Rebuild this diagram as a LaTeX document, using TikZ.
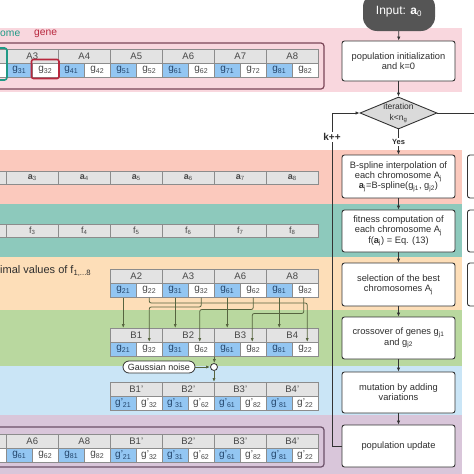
\documentclass[tikz,border=0pt]{standalone}
\usepackage{fontspec}
\setmainfont{Liberation Sans}
\usetikzlibrary{shapes.geometric,arrows.meta,calc}
\definecolor{bpink}{HTML}{F9D7DE}
\definecolor{bsalmon}{HTML}{FBC9BD}
\definecolor{bteal}{HTML}{8DC9BC}
\definecolor{bpeach}{HTML}{FDDEB8}
\definecolor{bgreen}{HTML}{B9D89F}
\definecolor{bblue}{HTML}{CAE5F6}
\definecolor{blav}{HTML}{D9C6DA}
\definecolor{hdrgray}{HTML}{E3E3E3}
\definecolor{geneblue}{HTML}{93C6F2}
\definecolor{cellb}{HTML}{8C8C8C}
\definecolor{txtgray}{HTML}{474747}
\definecolor{txtblue}{HTML}{23456B}
\definecolor{txtdark}{HTML}{2E2E2E}
\definecolor{olive}{HTML}{56643F}
\definecolor{flowb}{HTML}{333333}
\definecolor{termfill}{HTML}{555555}
\definecolor{diafill}{HTML}{DADADA}
\definecolor{outlinetop}{HTML}{7B4657}
\definecolor{outlinebot}{HTML}{6B5068}
\definecolor{chromteal}{HTML}{1F9A86}
\definecolor{genered}{HTML}{B8283E}
\newcommand{\sbs}[1]{\textsubscript{#1}}
\newcommand{\chrom}[6]{%
  \node[hdr,anchor=north west] (#1) at ({#2},{#3}) {#4};
  \node[gb,anchor=north west] (#1a) at ({#2},{#3+14}) {#5};
  \node[gw,anchor=north west] (#1b) at ({#2+26},{#3+14}) {#6};}
\begin{document}
\begin{tikzpicture}[x=1pt,y=-1pt,
  hdr/.style={draw=cellb, fill=hdrgray, line width=0.5pt, minimum width=52pt, minimum height=14pt, inner sep=0pt, text=txtgray, font=\fontsize{9.5}{10}\selectfont},
  gb/.style={draw=cellb, fill=geneblue, line width=0.5pt, minimum width=26pt, minimum height=14pt, inner sep=0pt, text=txtblue, font=\fontsize{10}{10}\selectfont},
  gw/.style={gb, fill=white, text=txtgray},
  rowc/.style={draw=cellb, fill=hdrgray, line width=0.5pt, minimum width=52pt, minimum height=12.5pt, inner sep=0pt, text=txtgray, font=\fontsize{9}{9}\selectfont},
  outtop/.style={draw=outlinetop, line width=1.2pt, rounded corners=3pt},
  outbot/.style={draw=outlinebot, line width=1.2pt, rounded corners=3pt},
  fbox/.style={draw=flowb, fill=white, line width=0.9pt, rounded corners=2.5pt, minimum width=113pt, align=center, inner sep=1pt, text=txtdark, font=\fontsize{9.3}{10.3}\selectfont},
  term/.style={fill=termfill, text=white, rounded corners=14pt, minimum width=72pt, minimum height=38pt, inner sep=0pt, font=\fontsize{12}{12}\selectfont},
  diam/.style={diamond, draw=flowb, fill=diafill, line width=0.9pt, minimum width=77pt, minimum height=32pt, inner sep=0pt},
  flowarr/.style={draw=flowb, line width=0.8pt, -{Latex[length=4pt,width=3.5pt]}},
  flowline/.style={draw=flowb, line width=0.8pt},
  xarr/.style={draw=olive, line width=0.8pt, rounded corners=2pt, -{Latex[length=4pt,width=3.2pt]}},
  lbl/.style={inner sep=1pt, fill=white, text=txtdark, font=\bfseries\fontsize{10}{10}\selectfont}
]
\useasboundingbox (0,0) rectangle (474,474);
\clip (0,0) rectangle (474,474);
% background bands
\fill[bpink] (0,28) rectangle (462,92);
\fill[bsalmon] (0,150) rectangle (462,204);
\fill[bteal] (0,204) rectangle (462,257);
\fill[bpeach] (0,257) rectangle (462,310);
\fill[bgreen] (0,310) rectangle (462,366);
\fill[bblue] (0,366) rectangle (462,415);
\fill[blav] (0,415) rectangle (462,474);
% top population
\draw[outtop] (-10,43) rectangle (324,89);
\node[anchor=west, inner sep=0pt, text=chromteal, font=\fontsize{10.3}{11}\selectfont] (lblc) at (0,34) {ome};
\node[anchor=west, inner sep=0pt, text=genered, font=\fontsize{10.3}{11}\selectfont] (lblg) at (34,34) {gene};
\chrom{t2}{-46}{49}{}{}{}
\foreach \i in {3,...,8} {\chrom{t\i}{6+52*(\i-3)}{49}{A\i}{g\sbs{\i1}}{g\sbs{\i2}}}
\draw[chromteal, line width=1.6pt, rounded corners=2.5pt] (-48,48) rectangle (7,80);
\draw[genered, line width=1.6pt, rounded corners=2pt] (31.5,59.5) rectangle (59,78.5);
% row a
\node[rowc, anchor=north west] (ra2) at (-46,171) {};
\foreach \i in {3,...,8} {\node[rowc, anchor=north west] (ra\i) at ({6+52*(\i-3)},171) {\textbf{a}\sbs{\i}};}
% row f
\node[rowc, anchor=north west] (rf2) at (-46,224) {};
\foreach \i in {3,...,8} {\node[rowc, anchor=north west] (rf\i) at ({6+52*(\i-3)},224) {f\sbs{\i}};}
% selection
\node[anchor=west, inner sep=0pt, text=txtdark, font=\fontsize{11}{11}\selectfont] (seltxt) at (0,271) {imal values of f\sbs{1,...8}};
\chrom{sA2}{110}{269}{A2}{g\sbs{21}}{g\sbs{22}}
\chrom{sA3}{162}{269}{A3}{g\sbs{31}}{g\sbs{32}}
\chrom{sA6}{214}{269}{A6}{g\sbs{61}}{g\sbs{62}}
\chrom{sA8}{266}{269}{A8}{g\sbs{81}}{g\sbs{82}}
% crossover
\chrom{xB1}{110}{328}{B1}{g\sbs{21}}{g\sbs{32}}
\chrom{xB2}{162}{328}{B2}{g\sbs{31}}{g\sbs{62}}
\chrom{xB3}{214}{328}{B3}{g\sbs{61}}{g\sbs{82}}
\chrom{xB4}{266}{328}{B4}{g\sbs{81}}{g\sbs{22}}
\draw[xarr] (sA2a.south) -- (sA2a.south |- xB1.north);
\draw[xarr] (sA3a.south) -- (sA3a.south |- xB2.north);
\draw[xarr] (sA6a.south) -- (sA6a.south |- xB3.north);
\draw[xarr] (sA8a.south) -- (sA8a.south |- xB4.north);
\draw[xarr] (sA2b.south) -- ++(0,5.5) -| ($(xB4b.north)+(2,0)$);
\draw[xarr] (sA3b.south) -- ++(0,9.5) -| (xB1b.north);
\draw[xarr] (sA6b.south) -- ++(0,12) -| ($(xB2b.north)+(-1.5,0)$);
\draw[xarr] ($(sA8b.south)+(-1.5,0)$) -- ++(0,16) -| ($(xB3b.north)+(-1,0)$);
% mutation
\chrom{pB1}{110}{382}{B1'}{g'\sbs{21}}{g'\sbs{32}}
\chrom{pB2}{162}{382}{B2'}{g'\sbs{31}}{g'\sbs{62}}
\chrom{pB3}{214}{382}{B3'}{g'\sbs{61}}{g'\sbs{82}}
\chrom{pB4}{266}{382}{B4'}{g'\sbs{81}}{g'\sbs{22}}
\node[draw=flowb, fill=white, line width=0.8pt, rounded corners=6pt, minimum width=72pt, minimum height=12pt, inner sep=0pt, text=txtdark, font=\fontsize{9}{9}\selectfont] (gn) at (159,367) {Gaussian noise};
\node[circle, draw=flowb, fill=white, line width=0.8pt, minimum size=7pt, inner sep=0pt] (mix) at (214,367) {};
\draw[xarr] (xB2b.south east) -- (mix);
\draw[xarr] (gn) -- (mix);
\draw[xarr] (mix) -- (pB3.north west);
% population update
\draw[outbot] (-10,427) rectangle (324,467);
\chrom{uA3}{-46}{434}{}{}{}
\chrom{uA6}{6}{434}{A6}{g\sbs{61}}{g\sbs{62}}
\chrom{uA8}{58}{434}{A8}{g\sbs{81}}{g\sbs{82}}
\chrom{uB1}{110}{434}{B1'}{g'\sbs{21}}{g'\sbs{32}}
\chrom{uB2}{162}{434}{B2'}{g'\sbs{31}}{g'\sbs{62}}
\chrom{uB3}{214}{434}{B3'}{g'\sbs{61}}{g'\sbs{82}}
\chrom{uB4}{266}{434}{B4'}{g'\sbs{81}}{g'\sbs{22}}
% flowchart
\node[term] (inp) at (399,12) {Input: \textbf{a}\sbs{0}};
\node[fbox, minimum height=40pt] (b1) at (398.5,61) {population initialization\\and k=0};
\node[diam] (dec) at (398.5,113) {};
\node[inner sep=0pt, align=center, text=txtdark, font=\fontsize{8.5}{11}\selectfont] (dect) at (dec.center) {iteration\\k<n\sbs{g}};
\node[fbox, minimum height=43pt] (b2) at (398.5,176.5) {B-spline interpolation of\\each chromosome A\sbs{j}\\\textbf{a}\sbs{j}=B-spline(g\sbs{j1}, g\sbs{j2})};
\node[fbox, minimum height=42pt] (b3) at (398.5,231) {fitness computation of\\each chromosome A\sbs{j}\\f(\textbf{a}\sbs{j}) = Eq. (13)};
\node[fbox, minimum height=43pt] (b4) at (398.5,284.5) {selection of the best\\chromosomes A\sbs{j}};
\node[fbox, minimum height=42pt] (b5) at (398.5,338) {crossover of genes g\sbs{j1}\\and g\sbs{j2}};
\node[fbox, minimum height=41pt] (b6) at (398.5,392.5) {mutation by adding\\variations};
\node[fbox, minimum height=42pt] (b7) at (398.5,446) {population update};
\node[fbox, minimum width=40pt, minimum height=43pt, anchor=west] (r2) at (467,176.5) {};
\node[fbox, minimum width=40pt, minimum height=42pt, anchor=west] (r3) at (467,231) {};
\node[fbox, minimum width=40pt, minimum height=43pt, anchor=west] (r4) at (467,284.5) {};
\draw[flowarr] (inp) -- (b1);
\draw[flowarr] (b1) -- (dec);
\draw[flowarr] (dec) -- node[lbl, font=\bfseries\fontsize{7.5}{8}\selectfont] (yes) {Yes} (b2);
\draw[flowarr] (b2) -- (b3);
\draw[flowarr] (b3) -- (b4);
\draw[flowarr] (b4) -- (b5);
\draw[flowarr] (b5) -- (b6);
\draw[flowarr] (b6) -- (b7);
\coordinate (lb) at (332,446);
\coordinate (lt) at (332,113);
\coordinate (noend) at (480,113);
\draw[flowarr] (b7.west) -- (lb) -- (lt) -- (dec.west);
\node[lbl] (kpp) at (332,137) {k++};
\draw[flowline] (dec.east) -- (noend);
\end{tikzpicture}
\end{document}
